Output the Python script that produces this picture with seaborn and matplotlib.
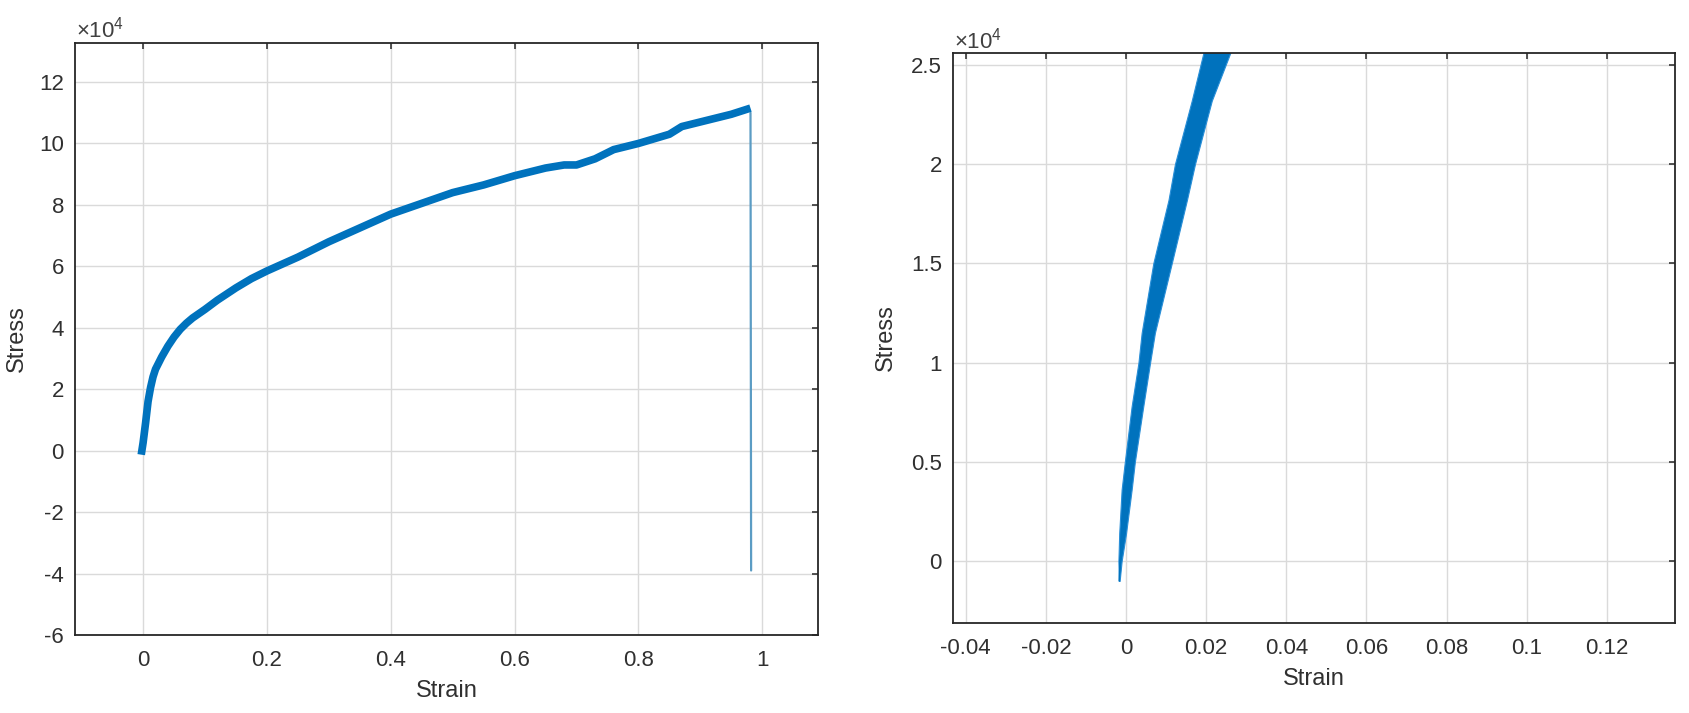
import numpy as np
import pandas as pd
import matplotlib
matplotlib.use("Agg")
import matplotlib.pyplot as plt
import seaborn as sns
from matplotlib.ticker import FuncFormatter, MultipleLocator

# ============================
# Data (stress in units of 1e4)
# ============================
strain = [-0.003, 0.0, 0.004, 0.008, 0.012, 0.016, 0.020, 0.025, 0.030, 0.040,
          0.050, 0.060, 0.070, 0.080, 0.100, 0.120, 0.150, 0.175, 0.200, 0.250,
          0.300, 0.350, 0.400, 0.450, 0.500, 0.550, 0.600, 0.650, 0.680, 0.700,
          0.730, 0.760, 0.800, 0.850, 0.870, 0.900, 0.950, 0.981]
stress_e4 = [-0.13, 0.26, 0.9, 1.6, 2.05, 2.4, 2.65, 2.85, 3.05, 3.4,
             3.7, 3.95, 4.15, 4.32, 4.6, 4.9, 5.3, 5.6, 5.85, 6.3,
             6.8, 7.25, 7.7, 8.05, 8.4, 8.65, 8.95, 9.2, 9.3, 9.3,
             9.5, 9.8, 10.0, 10.3, 10.55, 10.7, 10.95, 11.15]

# fracture drop at the end of the test
drop_strain = [0.981, 0.982]
drop_stress_e4 = [11.0, -3.9]

# zoomed start of the curve: noisy band, strain limits per stress level
band_stress_e4 = [-0.10, 0.0, 0.14, 0.36, 0.50, 0.78, 1.0, 1.15, 1.5, 1.82, 2.0, 2.32, 2.56, 2.70]
band_strain_lo = [-0.0018, -0.0019, -0.0017, -0.0011, -0.0003, 0.0014, 0.0031, 0.0039,
                  0.0068, 0.0106, 0.0122, 0.0164, 0.0193, 0.0210]
band_strain_hi = [-0.0016, -0.0011, 0.0000, 0.0014, 0.0022, 0.0043, 0.0060, 0.0072,
                  0.0114, 0.0152, 0.0172, 0.0214, 0.0260, 0.0280]

BLUE = "#0072BD"
DARK = "#262626"

sns.set_style("white")
plt.rcParams['font.family'] = ['Liberation Sans', 'DejaVu Sans']
plt.rcParams['mathtext.fontset'] = 'custom'
plt.rcParams['mathtext.rm'] = 'Liberation Sans'
plt.rcParams['axes.unicode_minus'] = False

fig = plt.figure(figsize=(16.89, 7.13), dpi=100)
ax1 = fig.add_axes([0.0444, 0.1094, 0.4399, 0.8303])
ax2 = fig.add_axes([0.5642, 0.1262, 0.4275, 0.7994])

curve = pd.DataFrame({"Strain": strain, "Stress": np.array(stress_e4) * 1e4})
drop = pd.DataFrame({"Strain": drop_strain, "Stress": np.array(drop_stress_e4) * 1e4})

# ----- left: full curve -----
sns.lineplot(data=drop, x="Strain", y="Stress", ax=ax1, color="#5b9cc4",
             lw=1.6, sort=False, estimator=None)
sns.lineplot(data=curve, x="Strain", y="Stress", ax=ax1, color=BLUE,
             lw=5.5, sort=False, estimator=None, solid_capstyle="butt",
             solid_joinstyle="round")

# ----- right: zoom on the start -----
band_y = np.array(band_stress_e4) * 1e4
ax2.fill_betweenx(band_y, band_strain_lo, band_strain_hi, color=BLUE, lw=0.8,
                  edgecolor="#2a8fd8")
sns.lineplot(x=(np.array(band_strain_lo) + np.array(band_strain_hi)) / 2, y=band_y,
             ax=ax2, color=BLUE, lw=1, sort=False, estimator=None)

ax1.set_xlim(-0.11, 1.09)
ax1.set_ylim(-6e4, 13.27e4)
ax1.xaxis.set_major_locator(MultipleLocator(0.2))
ax1.yaxis.set_major_locator(MultipleLocator(2e4))

ax2.set_xlim(-0.0432, 0.137)
ax2.set_ylim(-0.312e4, 2.56e4)
ax2.xaxis.set_major_locator(MultipleLocator(0.02))
ax2.yaxis.set_major_locator(MultipleLocator(0.5e4))


def fmt_x(v, pos):
    return f"{round(v, 6) + 0.0:g}"


def fmt_y(v, pos):
    return f"{round(v / 1e4, 6) + 0.0:g}"


for ax, ypad in [(ax1, 8), (ax2, 10)]:
    ax.xaxis.set_major_formatter(FuncFormatter(fmt_x))
    ax.yaxis.set_major_formatter(FuncFormatter(fmt_y))
    ax.grid(True, color="#dadada", lw=1)
    ax.set_axisbelow(True)
    for s in ax.spines.values():
        s.set_color(DARK)
        s.set_linewidth(1.3)
    ax.tick_params(direction="in", length=4.5, width=1.1, color=DARK,
                   top=True, right=True, labelsize=16, labelcolor="#303030", pad=8)
    ax.tick_params(axis="x", pad=11)
    ax.set_xlabel("Strain", fontsize=17, color="#303030", labelpad=6)
    ax.set_ylabel("Stress", fontsize=17, color="#303030", labelpad=ypad)
    ax.annotate(r"$\times\mathregular{10^{4}}$", xy=(0, 1), xycoords="axes fraction",
                xytext=(1, 0), textcoords="offset points", va="bottom", ha="left",
                fontsize=16, color="#404040")

fig.savefig("out.png", dpi=100, facecolor="white")
